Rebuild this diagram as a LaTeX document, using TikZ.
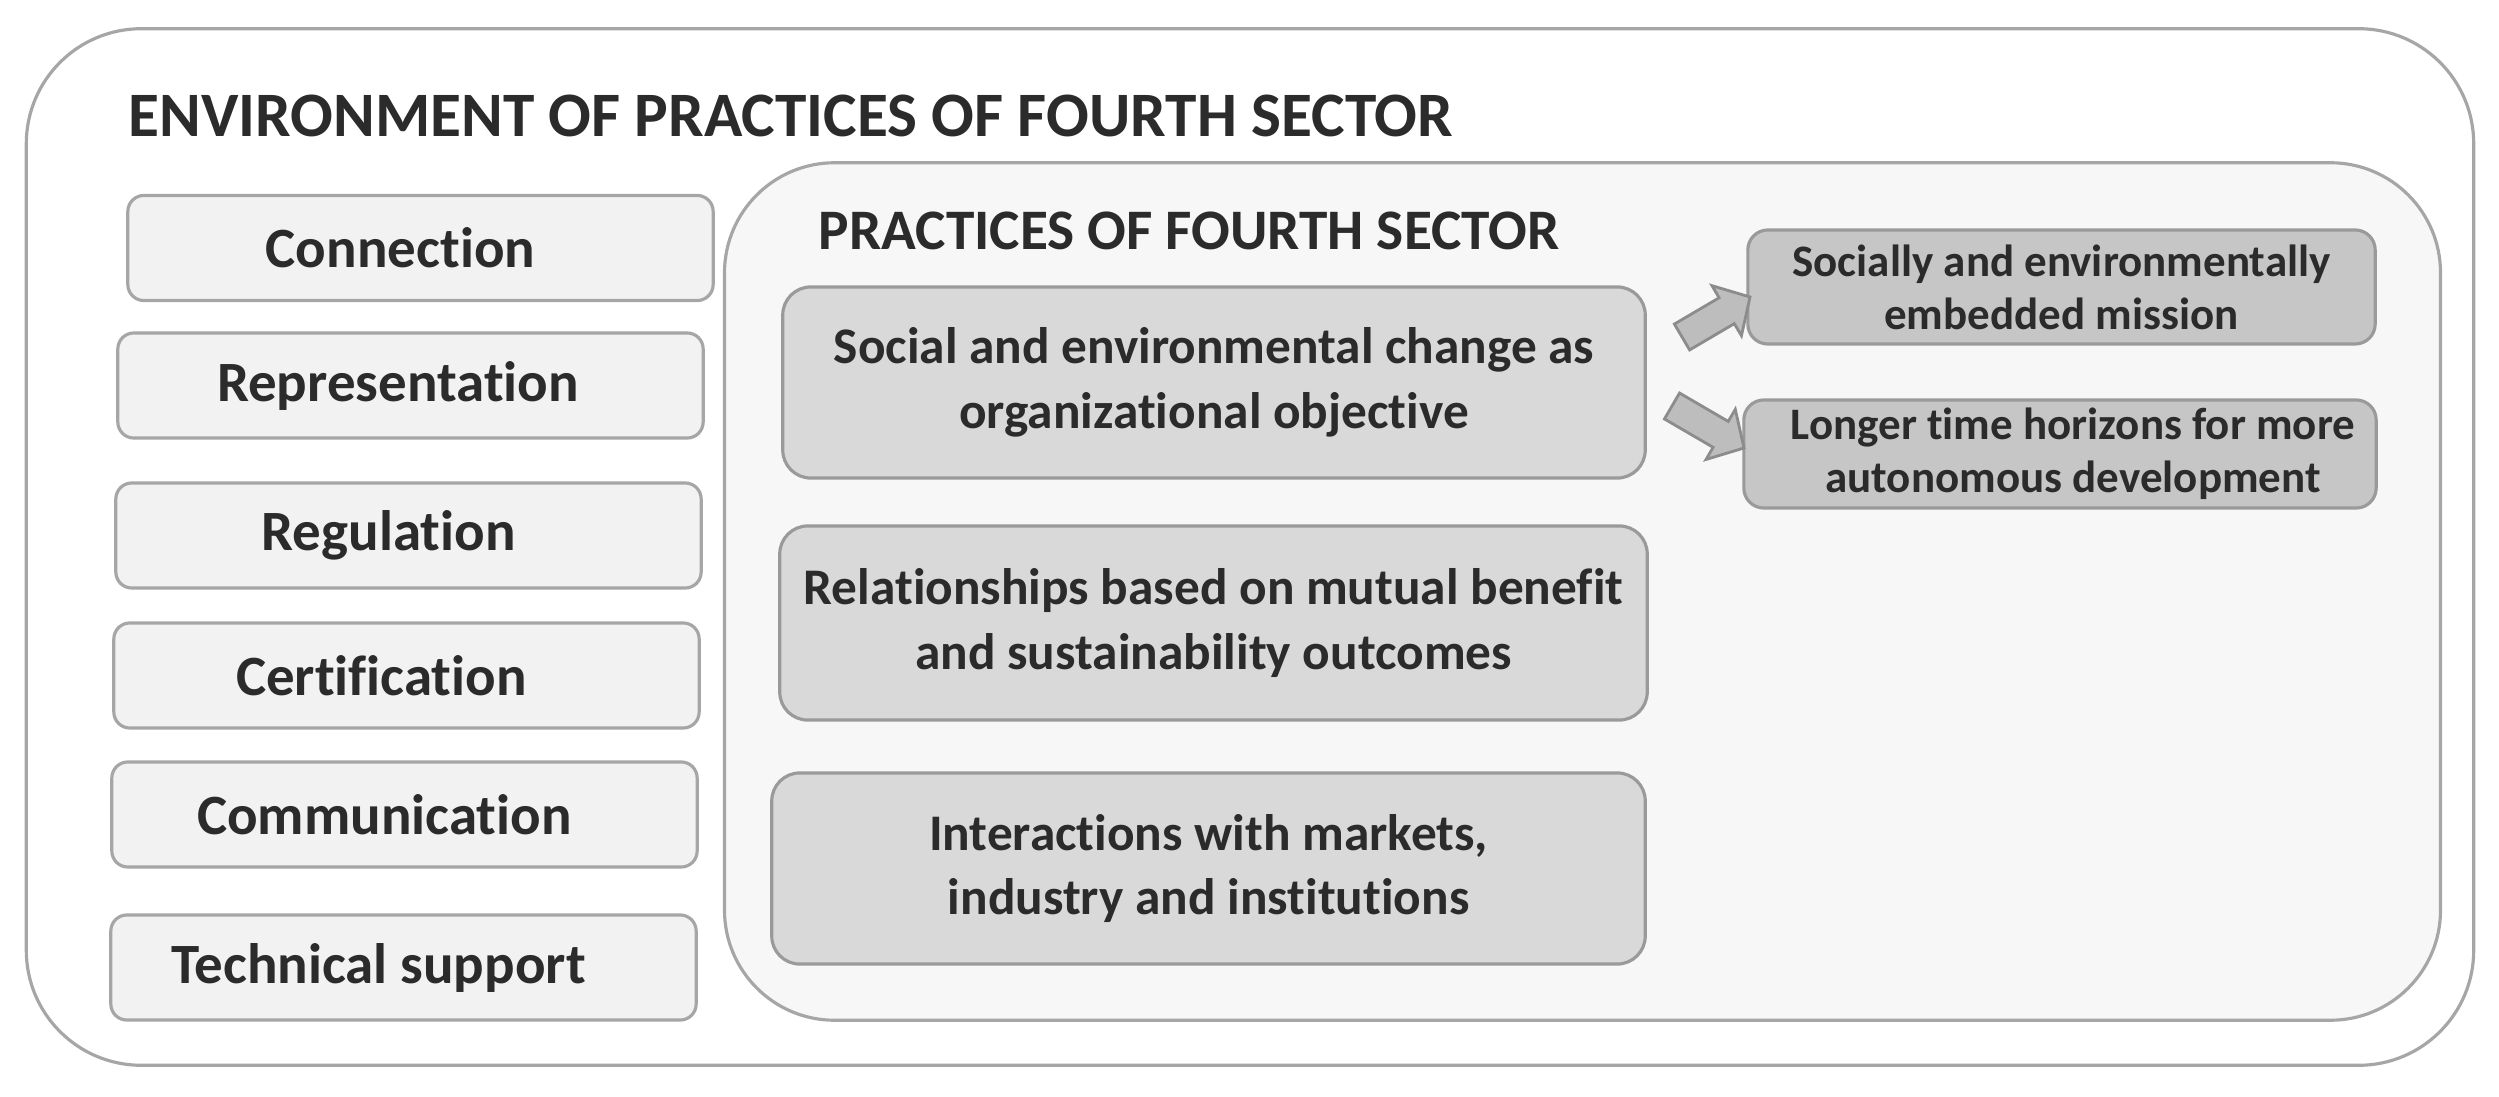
\documentclass[tikz,border=0pt]{standalone}
\usepackage{fontspec}
\setmainfont{Carlito}[Ligatures={CommonOff,ContextualOff}]
\usetikzlibrary{calc}
\definecolor{txt}{HTML}{2B2B2B}
\definecolor{outerline}{HTML}{A6A6A6}
\definecolor{innerfill}{HTML}{F7F7F7}
\definecolor{leftfill}{HTML}{F2F2F2}
\definecolor{midfill}{HTML}{D9D9D9}
\definecolor{rightfill}{HTML}{C6C6C6}
\definecolor{boxline}{HTML}{9A9A9A}
\definecolor{arrowfill}{HTML}{BDBDBD}
\definecolor{arrowline}{HTML}{8C8C8C}
\begin{document}
\begin{tikzpicture}[x=0.01cm,y=-0.01cm,
  every node/.style={text=txt},
  outerbox/.style={draw=outerline, fill=white, line width=0.9pt, rounded corners=1.15cm,
    minimum width=24.46cm, minimum height=10.36cm, inner sep=0},
  innerbox/.style={draw=outerline, fill=innerfill, line width=0.9pt, rounded corners=1.1cm,
    minimum width=17.15cm, minimum height=8.57cm, inner sep=0},
  bigtitle/.style={anchor=west, inner sep=0, font=\fontsize{18}{22}\selectfont\bfseries},
  subtitle/.style={anchor=west, inner sep=0, font=\fontsize{16.3}{20}\selectfont\bfseries},
  leftbox/.style={draw=outerline, fill=leftfill, line width=0.9pt, rounded corners=0.16cm,
    minimum width=5.85cm, minimum height=1.05cm, inner sep=0,
    font=\fontsize{16.2}{20}\selectfont\bfseries},
  midbox/.style={draw=boxline, fill=midfill, line width=0.9pt, rounded corners=0.28cm,
    minimum width=8.65cm, minimum height=1.92cm, inner sep=0, align=center,
    font=\fontsize{14.6}{18.4}\selectfont\bfseries},
  rightbox/.style={draw=boxline, fill=rightfill, line width=0.9pt, rounded corners=0.2cm,
    minimum width=6.3cm, minimum height=1.11cm, inner sep=0, align=center,
    font=\fontsize{12.8}{15}\selectfont\bfseries},
  blockarrow/.style={draw=arrowline, fill=arrowfill, line width=0.8pt, line join=miter}
]
\useasboundingbox[fill=white] (0,0) rectangle (2499,1097);

\node[outerbox] (outer) at (1250,547) {};
\node[bigtitle] (t1) at (128,116) {ENVIRONMENT OF PRACTICES OF FOURTH SECTOR};

\node[leftbox] (conn) at (420.5,248) {Connection\hspace*{0.4cm}};
\node[leftbox] (repr) at (410.5,385.5) {Representation\hspace*{0.25cm}};
\node[leftbox] (regu) at (408.5,535.5) {Regulation\hspace*{0.4cm}};
\node[leftbox] (cert) at (406.5,675.5) {Certification\hspace*{0.5cm}};
\node[leftbox] (comm) at (404.5,814.5) {Communication\hspace*{0.4cm}};
\node[leftbox] (tech) at (403.5,967.5) {Technical support\hspace*{0.5cm}};

\node[innerbox] (inner) at (1582.5,591.5) {};
\node[subtitle] (t2) at (818,231) {PRACTICES OF FOURTH SECTOR};

\node[midbox, minimum width=8.62cm, minimum height=1.91cm] (m1) at (1214,382.5)
  {Social and environmental change as\\organizational objective};
\node[midbox, minimum width=8.67cm, minimum height=1.94cm] (m2) at (1213.5,623)
  {Relationships based on mutual benefit\\and sustainability outcomes};
\node[midbox, minimum width=8.73cm, minimum height=1.91cm] (m3) at (1208.5,868.5)
  {Interactions with markets,\\industry and institutions};

\node[rightbox, minimum width=6.27cm, minimum height=1.14cm] (r1) at (2061.5,287)
  {Socially and environmentally\\embedded mission};
\node[rightbox, minimum width=6.32cm, minimum height=1.08cm] (r2) at (2060,454)
  {\hspace*{0.26cm}Longer time horizons for more\\\hspace*{0.26cm}autonomous development};

% block arrows
\coordinate (a1s) at (1682,337);
\coordinate (a1e) at (1750,297);
\coordinate (a2s) at (1672,406);
\coordinate (a2e) at (1744,448);
\coordinate (a1h) at ($(a1e)!0.27cm!(a1s)$);
\coordinate (a2h) at ($(a2e)!0.27cm!(a2s)$);
\draw[blockarrow] ($(a1s)!0.15cm!90:(a1e)$) -- ($(a1h)!0.15cm!90:(a1e)$)
  -- ($(a1h)!0.29cm!90:(a1e)$) -- (a1e) -- ($(a1h)!0.29cm!-90:(a1e)$)
  -- ($(a1h)!0.15cm!-90:(a1e)$) -- ($(a1s)!0.15cm!-90:(a1e)$) -- cycle;
\draw[blockarrow] ($(a2s)!0.15cm!90:(a2e)$) -- ($(a2h)!0.15cm!90:(a2e)$)
  -- ($(a2h)!0.29cm!90:(a2e)$) -- (a2e) -- ($(a2h)!0.29cm!-90:(a2e)$)
  -- ($(a2h)!0.15cm!-90:(a2e)$) -- ($(a2s)!0.15cm!-90:(a2e)$) -- cycle;
\end{tikzpicture}
\end{document}
